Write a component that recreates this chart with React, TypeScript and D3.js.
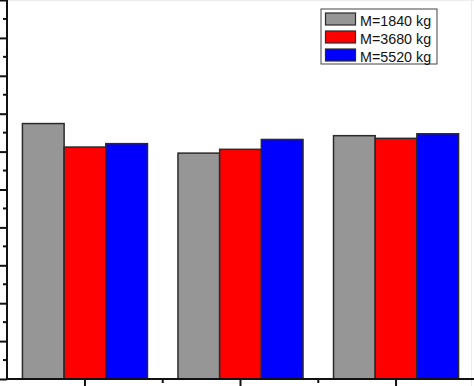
import React, { useEffect, useRef } from 'react';
import * as d3 from 'd3';

// data (y axis labels are cut off, so units are relative)
const categories = ['1', '2', '3'];
const seriesNames = ['M=1840 kg', 'M=3680 kg', 'M=5520 kg'];
const seriesColors = ['#969696', '#ff0000', '#0000ff'];
const m1840 = [6.74, 5.96, 6.42];
const m3680 = [6.12, 6.06, 6.35];
const m5520 = [6.21, 6.32, 6.47];
const yTicks = [0, 1, 2, 3, 4, 5, 6, 7, 8, 9, 10];

export default function App() {
  const ref = useRef<SVGSVGElement>(null);

  useEffect(() => {
    if (!ref.current) return;
    const width = 474;
    const height = 386;
    const svg = d3.select(ref.current);
    svg.selectAll('*').remove();

    const axisX = 7;
    const axisY = 379;

    const x0 = d3.scaleBand().domain(categories).range([7.5, 473.5]).paddingInner(0.196).paddingOuter(0.096);
    const x1 = d3.scaleBand().domain(seriesNames).range([0, x0.bandwidth()]);
    const y = d3.scaleLinear().domain([0, 10]).range([axisY, 0]);

    const allSeries = [m1840, m3680, m5520];

    // faint frame lines at edges
    svg.append('line').attr('x1', 0).attr('x2', width).attr('y1', 0.5).attr('y2', 0.5).attr('stroke', '#ececec');
    svg.append('line').attr('x1', 471.5).attr('x2', 471.5).attr('y1', 0).attr('y2', height).attr('stroke', '#ececec');

    // bars
    const groups = svg.append('g').selectAll('g')
      .data(categories)
      .enter().append('g')
      .attr('transform', d => `translate(${x0(d)},0)`);

    groups.selectAll('rect')
      .data((c, i) => seriesNames.map((s, j) => ({ s, j, v: allSeries[j][i] })))
      .enter().append('rect')
      .attr('x', d => x1(d.s)!)
      .attr('width', x1.bandwidth())
      .attr('y', d => y(d.v))
      .attr('height', d => axisY - y(d.v))
      .attr('fill', d => seriesColors[d.j])
      .attr('stroke', '#2a2a2a')
      .attr('stroke-width', 1.5);

    // left axis
    const yAxis = d3.axisLeft(y).tickValues(yTicks).tickSize(7).tickFormat(() => '');
    const gy = svg.append('g').attr('transform', `translate(${axisX},0)`).call(yAxis);
    gy.select('.domain').remove();
    gy.selectAll('line').attr('stroke', '#111').attr('stroke-width', 2);
    const minor = d3.range(0.5, 10, 1);
    svg.append('g').selectAll('line').data(minor).enter().append('line')
      .attr('x1', axisX - 4).attr('x2', axisX)
      .attr('y1', d => y(d)).attr('y2', d => y(d))
      .attr('stroke', '#111').attr('stroke-width', 2);
    svg.append('line').attr('x1', axisX).attr('x2', axisX).attr('y1', 0).attr('y2', axisY + 1)
      .attr('stroke', '#111').attr('stroke-width', 2);

    // bottom axis
    const centers = categories.map(c => x0(c)! + x0.bandwidth() / 2);
    svg.append('line').attr('x1', axisX - 1).attr('x2', width).attr('y1', axisY).attr('y2', axisY)
      .attr('stroke', '#111').attr('stroke-width', 2);
    svg.append('g').selectAll('line').data(centers).enter().append('line')
      .attr('x1', d => d).attr('x2', d => d).attr('y1', axisY).attr('y2', axisY + 8)
      .attr('stroke', '#111').attr('stroke-width', 2);
    const mids = d3.pairs(centers).map(([a, b]) => (a + b) / 2);
    svg.append('g').selectAll('line').data(mids).enter().append('line')
      .attr('x1', d => d).attr('x2', d => d).attr('y1', axisY).attr('y2', axisY + 4)
      .attr('stroke', '#111').attr('stroke-width', 2);

    // legend
    const lg = svg.append('g').attr('transform', 'translate(321,9)');
    lg.append('rect').attr('x', 0).attr('y', 0).attr('width', 116).attr('height', 55)
      .attr('fill', 'white').attr('stroke', '#444').attr('stroke-width', 1);
    const items = lg.selectAll('g.item').data(seriesNames).enter().append('g')
      .attr('transform', (d, i) => `translate(0,${i * 18})`);
    items.append('rect').attr('x', 4.5).attr('y', 4).attr('width', 30).attr('height', 12)
      .attr('fill', (d, i) => seriesColors[i]).attr('stroke', '#2a2a2a').attr('stroke-width', 1.2);
    items.append('text').attr('x', 39).attr('y', 16.5).text(d => d)
      .attr('font-family', '"Liberation Sans", Arial, sans-serif').attr('font-size', 14.3).attr('fill', '#111');
  }, []);

  return (
    <svg ref={ref} width={474} height={386}
      style={{ position: 'absolute', left: 0, top: 0, background: 'white' }} />
  );
}
